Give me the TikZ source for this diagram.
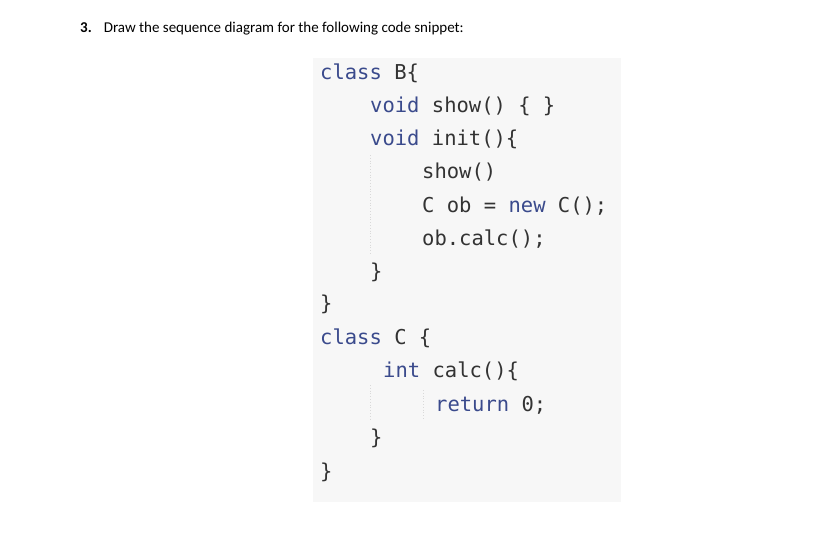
\documentclass[tikz,border=0pt]{standalone}
\usepackage{fontspec}
\setmainfont{Carlito}
\newfontfamily\codefont{DejaVu Sans Mono}
\begin{document}
\begin{tikzpicture}[x=1pt,y=-1pt,
  code/.style={anchor=base west,inner sep=0pt,font=\codefont\fontsize{20.5}{24}\selectfont,text=codegray},
  guide/.style={draw=black!15,dotted,line width=0.8pt}]
\definecolor{codegray}{HTML}{333333}
\definecolor{kw}{HTML}{3A4A8C}
\useasboundingbox (0,0) rectangle (828,558);
\fill[white] (0,0) rectangle (828,558);
\node[anchor=base west,inner sep=0pt,font=\fontsize{15}{18}\selectfont] (title) at (80,32)
  {\textbf{3.}\hspace{12pt}Draw the sequence diagram for the following code snippet:};
\fill[black!3] (313,58) rectangle (621,502);
\draw[guide] (370,155) -- (370,255);
\draw[guide] (370,385) -- (370,420);
\draw[guide] (423,390) -- (423,420);
\node[code] (l1) at (320,79) {\textcolor{kw}{class} B\{};
\node[code] (l2) at (370,112) {\textcolor{kw}{void} show() \{ \}};
\node[code] (l3) at (370,145) {\textcolor{kw}{void} init()\{};
\node[code] (l4) at (422,178) {show()};
\node[code] (l5) at (422,212) {C ob = \textcolor{kw}{new} C();};
\node[code] (l6) at (422,245) {ob.calc();};
\node[code] (l7) at (370,278) {\}};
\node[code] (l8) at (320,310) {\}};
\node[code] (l9) at (320,344) {\textcolor{kw}{class} C \{};
\node[code] (l10) at (383,377) {\textcolor{kw}{int} calc()\{};
\node[code] (l11) at (435,411) {\textcolor{kw}{return} 0;};
\node[code] (l12) at (370,444) {\}};
\node[code] (l13) at (320,478) {\}};
\end{tikzpicture}
\end{document}
